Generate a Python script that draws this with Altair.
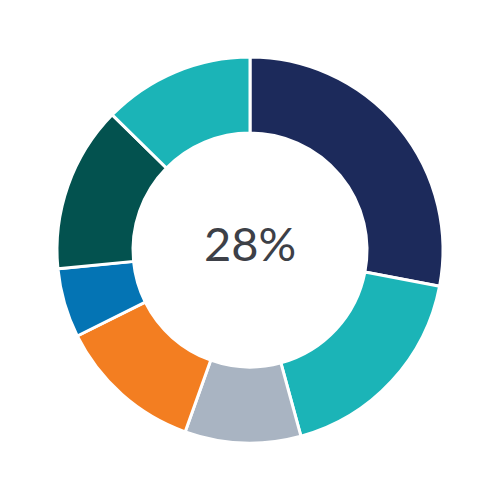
import altair as alt
import pandas as pd

categories = ["A", "B", "C", "D", "E", "F", "G"]
values = [28.0, 17.75, 9.7, 12.2, 5.8, 13.9, 12.65]
colors = ["#1c2a5b", "#1bb4b7", "#a9b4c2", "#f37e21", "#0474b4", "#03524f", "#1bb4b7"]
center_label = "28%"

df = pd.DataFrame({"cat": categories, "value": values, "order": list(range(len(categories)))})

base = alt.Chart(df)

arcs = base.mark_arc(innerRadius=117, outerRadius=193, stroke="white", strokeWidth=3).encode(
    theta=alt.Theta("value:Q", stack=True),
    order=alt.Order("order:Q", sort="ascending"),
    color=alt.Color("cat:N", scale=alt.Scale(domain=categories, range=colors), legend=None),
)

text = alt.Chart(pd.DataFrame({"t": [center_label]})).mark_text(
    font="Lato", fontSize=47, color="#3d4047", baseline="middle", align="center"
).encode(text="t:N", x=alt.value(242), y=alt.value(239))

chart = (arcs + text).properties(
    width=484, height=484, padding=0
).configure_view(stroke=None)

chart.save("out.html", embed_options={"renderer": "svg", "actions": False})
